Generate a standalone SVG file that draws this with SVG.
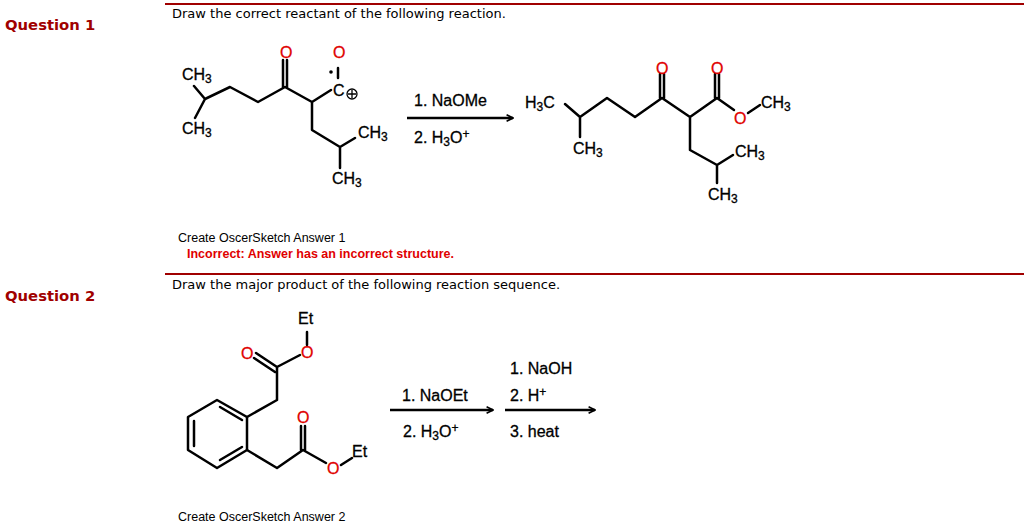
<svg xmlns="http://www.w3.org/2000/svg" width="1024" height="531" viewBox="0 0 1024 531">
<style>
.q{font-family:"DejaVu Sans",sans-serif;font-size:14.8px;font-weight:bold;fill:#a00000}
.p{font-family:"DejaVu Sans",sans-serif;font-size:13px;fill:#000}
.s{font-family:"Liberation Sans",Arial,sans-serif;font-size:12.5px;fill:#000}
.e{font-family:"Liberation Sans",Arial,sans-serif;font-size:12.5px;font-weight:bold;fill:#e00000}
.a{font-family:"Liberation Sans",Arial,sans-serif;font-size:16px;fill:#000;stroke:#000;stroke-width:0.3}
.o{font-family:"Liberation Sans",Arial,sans-serif;font-size:16px;fill:#e00000;stroke:#e00000;stroke-width:0.3}
.b{stroke:#000;stroke-width:2.5;fill:none;stroke-linejoin:round;stroke-linecap:round}
.sep{stroke:#a00000;stroke-width:2}
</style>
<defs><marker id="ar" viewBox="0 0 10 10" refX="9" refY="5" markerWidth="8" markerHeight="8" orient="auto" markerUnits="userSpaceOnUse"><path d="M1,1 L9,5 L1,9" fill="none" stroke="#000" stroke-width="2"/></marker></defs>
<line class="sep" x1="165" y1="4" x2="1024" y2="4"/>
<line class="sep" x1="165" y1="274" x2="1024" y2="274"/>
<text class="q" x="5" y="30">Question 1</text>
<text class="q" x="5" y="301">Question 2</text>
<text class="p" x="172" y="18">Draw the correct reactant of the following reaction.</text>
<text class="p" x="172" y="289">Draw the major product of the following reaction sequence.</text>
<text class="s" x="178" y="242">Create OscerSketch Answer 1</text>
<text class="e" x="187" y="258">Incorrect: Answer has an incorrect structure.</text>
<text class="s" x="178" y="521">Create OscerSketch Answer 2</text>
<g id="reactant1">
<path class="b" d="M194,86 L205,99 L230,87 L258,102 L285,87 L312,102 L331,90 M205,99 L195,118 M283,87 L283,60 M287,87 L287,60 M312,102 L312,130 L340,147 L355,138 M340,147 L340,168 M338,68 L338,78"/>
<text class="a" x="182" y="80">CH<tspan font-size="12" dy="3">3</tspan></text>
<text class="a" x="182" y="134">CH<tspan font-size="12" dy="3">3</tspan></text>
<text class="o" x="280" y="58">O</text>
<text class="o" x="333" y="58">O</text>
<circle cx="331" cy="72" r="1.8" fill="#000"/>
<text class="a" x="333" y="96">C</text>
<circle cx="352" cy="94" r="5" fill="none" stroke="#000" stroke-width="1.3"/>
<path d="M348,94 H356 M352,90 V98" stroke="#000" stroke-width="1.3"/>
<text class="a" x="358" y="138">CH<tspan font-size="12" dy="3">3</tspan></text>
<text class="a" x="332" y="184">CH<tspan font-size="12" dy="3">3</tspan></text>
</g>
<g id="product1">
<path class="b" d="M565,104 L580,117 L607,98 L635,117 L662,98 L690,117 L717,98 L734,110 M580,117 L580,137 M660,98 L660,74 M664,98 L664,74 M715,98 L715,74 M719,98 L719,74 M748,113 L760,105 M690,117 L690,150 L717,165 L733,155 M717,165 L717,183"/>
<text class="a" x="525" y="108">H<tspan font-size="12" dy="3">3</tspan><tspan dy="-3">C</tspan></text>
<text class="a" x="573" y="154">CH<tspan font-size="12" dy="3">3</tspan></text>
<text class="o" x="656" y="74">O</text>
<text class="o" x="711" y="74">O</text>
<text class="o" x="734" y="124">O</text>
<text class="a" x="761" y="108">CH<tspan font-size="12" dy="3">3</tspan></text>
<text class="a" x="735" y="157">CH<tspan font-size="12" dy="3">3</tspan></text>
<text class="a" x="708" y="200">CH<tspan font-size="12" dy="3">3</tspan></text>
</g>
<g id="reactant2">
<path class="b" d="M217,400 L247,417 L247,450 L217,468 L188,450 L188,417 Z M220,407 L242,420 M242,447 L220,460 M194,421 L194,446"/>
<path class="b" d="M247,417 L277,400 L277,367 L256,353 M275,372 L254,358 M277,367 L300,355 M307,345 L307,332 M247,450 L277,468 L303,450 L326,463 M301,450 L301,426 M305,450 L305,426 M341,465 L352,458"/>
<text class="a" x="298" y="324">Et</text>
<text class="o" x="241" y="359">O</text>
<text class="o" x="301" y="358">O</text>
<text class="o" x="297" y="423">O</text>
<text class="o" x="327" y="474">O</text>
<text class="a" x="352" y="457">Et</text>
</g>
<g id="connectors">
<line x1="407" y1="118" x2="513" y2="118" stroke="#000" stroke-width="2.3" marker-end="url(#ar)"/>
<line x1="390" y1="410" x2="493" y2="410" stroke="#000" stroke-width="2.3" marker-end="url(#ar)"/>
<line x1="505" y1="410" x2="595" y2="410" stroke="#000" stroke-width="2.3" marker-end="url(#ar)"/>
</g>
<text class="a" x="414" y="106">1. NaOMe</text>
<text class="a" x="414" y="143">2. H<tspan font-size="12" dy="3">3</tspan><tspan dy="-3">O</tspan><tspan font-size="12" dy="-5">+</tspan></text>
<text class="a" x="402" y="401">1. NaOEt</text>
<text class="a" x="403" y="437">2. H<tspan font-size="12" dy="3">3</tspan><tspan dy="-3">O</tspan><tspan font-size="12" dy="-5">+</tspan></text>
<text class="a" x="510" y="374">1. NaOH</text>
<text class="a" x="510" y="401">2. H<tspan font-size="12" dy="-5">+</tspan></text>
<text class="a" x="510" y="437">3. heat</text>
</svg>
